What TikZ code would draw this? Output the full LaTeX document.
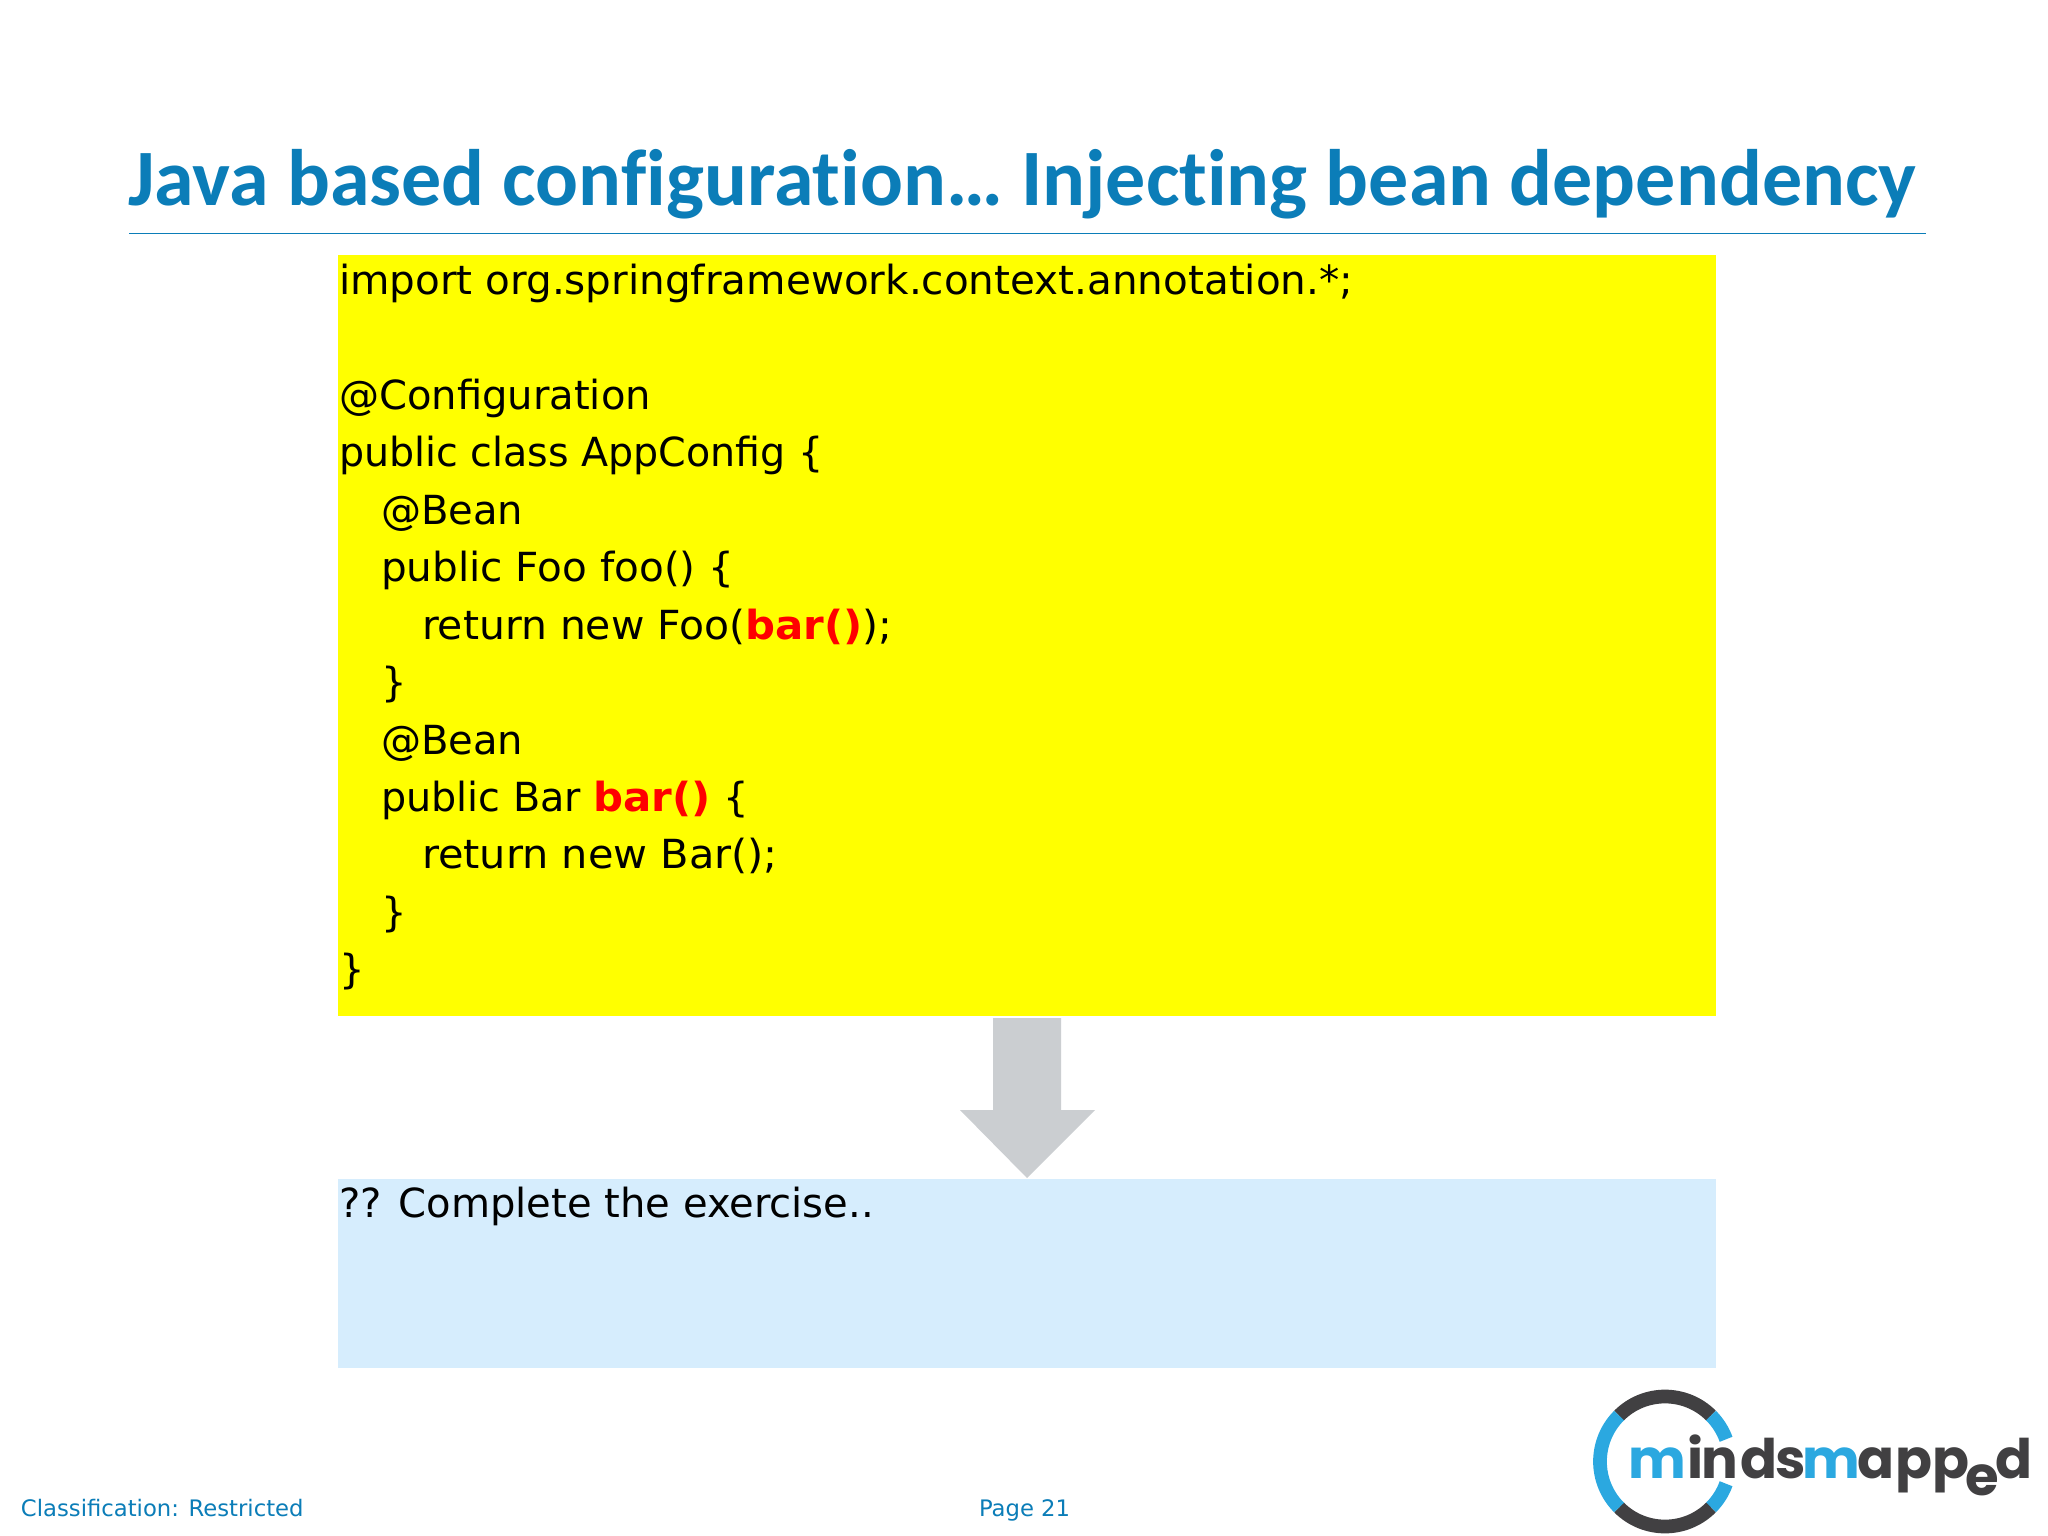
\documentclass[tikz,border=0pt]{standalone}
\usepackage{fontspec}
\usepackage{graphicx}
\setmainfont{DejaVu Sans}
\newfontfamily\titlefont{Carlito}[BoldFont={Carlito Bold},Ligatures=NoCommon]
\newfontfamily\logofont{Poppins}[BoldFont={Poppins Bold}]
\definecolor{titleblue}{HTML}{0B7DB8}
\definecolor{codeyellow}{HTML}{FFFF00}
\definecolor{paleblue}{HTML}{D6EDFD}
\definecolor{arrowgrey}{HTML}{CBCED1}
\definecolor{logoblue}{HTML}{2BA8E0}
\definecolor{logodark}{HTML}{414042}
\newcommand{\redbar}{\textcolor{red}{\scalebox{1.045}[1]{\textbf{bar()}}}}
\newcommand{\fitw}[2]{\scalebox{#1}[1]{#2}}
\tikzset{
 codeline/.style={anchor=base west,inner sep=0pt,outer sep=0pt,font=\fontsize{11.4pt}{13pt}\selectfont,text=black},
 footer/.style={anchor=base west,inner sep=0pt,outer sep=0pt,font=\fontsize{6.46pt}{8pt}\selectfont,text=titleblue},
 logoletter/.style={anchor=base,inner sep=0pt,outer sep=0pt,font=\logofont\bfseries\fontsize{15.5pt}{16pt}\selectfont},
 ring/.style={line width=3.9pt,line cap=butt}
}
\begin{document}
\begin{tikzpicture}[x=0.01cm,y=-0.01cm]
\useasboundingbox (0,0) rectangle (2048,1536);
\fill[white] (0,0) rectangle (2048,1536);
% title
\node[anchor=base west,inner sep=0pt,outer sep=0pt,text=titleblue,font=\titlefont\bfseries\fontsize{22.75pt}{26pt}\selectfont] (title) at (128,205) {Java based configuration… Injecting bean dependency};
\coordinate (ruleL) at (129,233.5);
\coordinate (ruleR) at (1926,233.5);
\draw[titleblue,line width=0.4pt] (ruleL) -- (ruleR);
% panels
\fill[codeyellow] (338,255) rectangle (1716,1016);
\fill[paleblue] (338,1179) rectangle (1716,1368);
% code
\node[codeline] (l1) at (339,294.5) {\fitw{1.01}{import org.springframework.context.annotation.*;}};
\node[codeline] (l3) at (339,409.4) {@Configuration};
\node[codeline] (l4) at (339,466.8) {\fitw{0.987}{public class AppConfig \{}};
\node[codeline] (l5) at (381,524.3) {@Bean};
\node[codeline] (l6) at (381,581.7) {\fitw{1.011}{public Foo foo() \{}};
\node[codeline] (l7) at (422,639.1) {\fitw{1.02}{return new Foo(}\redbar\fitw{1.02}{);}};
\node[codeline] (l8) at (381,696.6) {\}};
\node[codeline] (l9) at (381,754) {@Bean};
\node[codeline] (l10) at (381,811.4) {\fitw{0.99}{public Bar\ }\redbar{} \{};
\node[codeline] (l11) at (422,868.9) {\fitw{1.034}{return new Bar();}};
\node[codeline] (l12) at (381,926.3) {\}};
\node[codeline] (l13) at (339,983.8) {\}};
% arrow
\fill[arrowgrey] (993,1018) -- (1061,1018) -- (1061,1110) -- (1095,1110) -- (1027,1178) -- (960,1110) -- (993,1110) -- cycle;
% exercise
\node[codeline] (ex) at (339,1217.5) {?? Complete the exercise..};
% footer
\node[footer] (cls) at (21,1516) {Classification: Restricted};
\node[footer] (pg) at (979,1516) {Page 21};
% logo ring
\coordinate (rc) at (1665,1461.5);
\draw[ring,logodark] ([shift={(-135:65)}]rc) arc[start angle=-135,end angle=-45,radius=65];
\draw[ring,logoblue] ([shift={(-45:65)}]rc) arc[start angle=-45,end angle=-20,radius=65];
\draw[ring,logoblue] ([shift={(20:65)}]rc) arc[start angle=20,end angle=45,radius=65];
\draw[ring,logodark] ([shift={(45:65)}]rc) arc[start angle=45,end angle=135,radius=65];
\draw[ring,logoblue] ([shift={(135:65)}]rc) arc[start angle=135,end angle=225,radius=65];
% logo letters
\node[logoletter,text=logoblue] (lm) at (1657.5,1478) {m};
\node[logoletter,text=logodark] (li) at (1696,1478) {i};
\node[logoletter,text=logodark] (ln) at (1720,1478) {n};
\node[logoletter,text=logodark] (ld) at (1758.5,1478) {d};
\node[logoletter,text=logodark] (ls) at (1790.5,1478) {s};
\node[logoletter,text=logoblue] (lm2) at (1831,1478) {m};
\node[logoletter,text=logodark] (la) at (1876,1478) {a};
\node[logoletter,text=logodark] (lp) at (1913.5,1478) {p};
\node[logoletter,text=logodark] (lp2) at (1951,1478) {p};
\node[logoletter,text=logodark] (le) at (1982.5,1495) {e};
\node[logoletter,text=logodark] (ld2) at (2014,1478) {d};
\end{tikzpicture}
\end{document}
